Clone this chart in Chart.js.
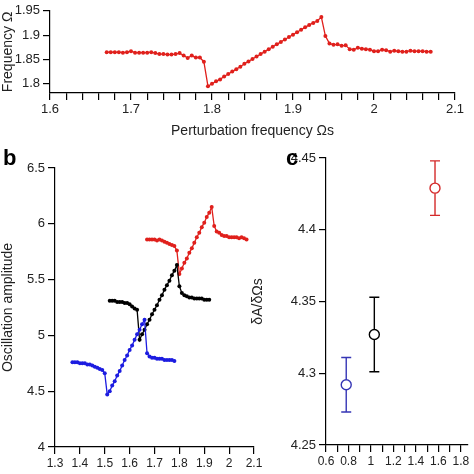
<!DOCTYPE html>
<html><head><meta charset="utf-8">
<script src="https://cdn.jsdelivr.net/npm/chart.js@4"></script>
<style>
body{margin:0;width:474px;height:474px;background:#fff;position:relative;overflow:hidden;font-family:"Liberation Sans",Arial,sans-serif}
canvas{position:absolute}
.lb{position:absolute;font-weight:bold;font-size:22px;font-family:"Liberation Sans",Arial,sans-serif}
</style></head><body>
<canvas id="ca" style="left:0px;top:0px" width="474" height="140"></canvas>
<canvas id="cb" style="left:0px;top:140px" width="270" height="334"></canvas>
<canvas id="cc" style="left:250px;top:140px" width="224" height="334"></canvas>
<div class="lb" style="left:3px;top:145px">b</div>
<div class="lb" style="left:286px;top:145px">c</div>
<script>
const xA=[1.67,1.675,1.68,1.685,1.69,1.695,1.70,1.705,1.71,1.715,1.72,1.725,1.73,1.735,1.74,1.745,1.75,1.755,1.76,1.765,1.77,1.775,1.78,1.785,1.79,1.795,1.80,1.805,1.81,1.815,1.82,1.825,1.83,1.835,1.84,1.845,1.85,1.855,1.86,1.865,1.87,1.875,1.88,1.885,1.89,1.895,1.90,1.905,1.91,1.915,1.92,1.925,1.93,1.935,1.94,1.945,1.95,1.955,1.96,1.965,1.97,1.975,1.98,1.985,1.99,1.995,2.00,2.005,2.01,2.015,2.02,2.025,2.03,2.035,2.04,2.045,2.05,2.055,2.06,2.065,2.07];
const freqA=[1.865,1.865,1.865,1.865,1.864,1.865,1.867,1.864,1.864,1.864,1.864,1.865,1.863,1.861,1.861,1.860,1.860,1.861,1.863,1.858,1.853,1.858,1.854,1.854,1.845,1.795,1.800,1.805,1.809,1.815,1.820,1.825,1.830,1.835,1.841,1.846,1.851,1.856,1.861,1.866,1.871,1.876,1.881,1.886,1.891,1.896,1.901,1.906,1.911,1.916,1.921,1.925,1.929,1.937,1.898,1.883,1.880,1.881,1.878,1.879,1.871,1.870,1.874,1.872,1.871,1.870,1.867,1.867,1.870,1.869,1.866,1.868,1.867,1.866,1.866,1.868,1.867,1.867,1.867,1.866,1.866];
const xB=[1.37,1.38,1.39,1.40,1.41,1.42,1.43,1.44,1.45,1.46,1.47,1.48,1.49,1.50,1.51,1.52,1.53,1.54,1.55,1.56,1.57,1.58,1.59,1.60,1.61,1.62,1.63,1.64,1.65,1.66,1.67,1.68,1.69,1.70,1.71,1.72,1.73,1.74,1.75,1.76,1.77,1.78,1.79,1.80,1.81,1.82,1.83,1.84,1.85,1.86,1.87,1.88,1.89,1.90,1.91,1.92,1.93,1.94,1.95,1.96,1.97,1.98,1.99,2.00,2.01,2.02,2.03,2.04,2.05,2.06,2.07];
const ampBlue=[4.76,4.76,4.76,4.75,4.75,4.75,4.74,4.74,4.73,4.72,4.71,4.70,4.69,4.66,4.47,4.50,4.55,4.59,4.64,4.68,4.73,4.78,4.82,4.87,4.91,4.96,5.01,5.05,5.10,5.14,4.84,4.81,4.80,4.80,4.79,4.79,4.79,4.78,4.78,4.78,4.78,4.77];
const ampBlack=[5.31,5.31,5.31,5.30,5.30,5.30,5.29,5.29,5.28,5.26,5.24,5.23,4.96,5.01,5.05,5.10,5.14,5.19,5.23,5.27,5.32,5.36,5.41,5.45,5.49,5.54,5.58,5.63,5.44,5.38,5.36,5.35,5.34,5.34,5.33,5.33,5.33,5.33,5.32,5.32,5.32];
const ampRed=[5.86,5.86,5.86,5.86,5.85,5.86,5.85,5.84,5.83,5.82,5.81,5.80,5.76,5.55,5.60,5.65,5.69,5.74,5.78,5.83,5.88,5.92,5.97,6.01,6.06,6.10,6.15,5.98,5.93,5.92,5.90,5.89,5.89,5.88,5.88,5.88,5.88,5.87,5.88,5.87,5.86];
const xC=[0.78,1.03,1.57];
const slopeC=[4.292,4.327,4.429];
const errC=[0.019,0.026,0.019];
const colC=['#3535b5','#000000','#d42a2a'];

const F='"Liberation Sans", Arial, sans-serif';
Chart.defaults.font.family=F;Chart.defaults.font.size=13;Chart.defaults.color='#222';
Chart.defaults.animation=false;
const fmt=v=>String(+(+v).toFixed(2));
function pts(xs,ys){return ys.map((y,i)=>({x:xs[i],y}));}
function axis(o){return Object.assign({type:'linear',border:{color:'#000',width:1.2},
 grid:{drawOnChartArea:false,color:'#000',tickLength:7,lineWidth:1.2},
 ticks:{color:'#222',padding:3,font:{size:13}}},o);}
const line=(data,c)=>({data,borderColor:c,backgroundColor:c,borderWidth:1.3,pointRadius:2,pointBorderWidth:0,tension:0});

new Chart(document.getElementById('ca'),{type:'line',
 data:{datasets:[line(pts(xA,freqA),'#e0201c')]},
 options:{responsive:false,plugins:{legend:{display:false},tooltip:{enabled:false}},
  layout:{padding:{top:5,right:19,left:0,bottom:0}},
  scales:{
   x:axis({min:1.6,max:2.1,afterFit:s=>{s.height=47},
     afterBuildTicks:s=>{s.ticks=[];for(const v of [1.6,1.62,1.64,1.66,1.68,1.7,1.72,1.74,1.76,1.78,1.8,1.82,1.84,1.86,1.88,1.9,1.92,1.94,1.96,1.98,2,2.02,2.04,2.06,2.08,2.1])s.ticks.push({value:v});},
     ticks:{color:'#222',padding:2,font:{size:13},autoSkip:false,maxRotation:0,callback:v=>Math.abs(v*10-Math.round(v*10))<1e-6?fmt(v):''},
     title:{display:true,text:'Perturbation frequency Ωs',font:{size:14},padding:0}}),
   y:axis({min:1.781,max:1.95,afterFit:s=>{s.width=50},
     afterBuildTicks:s=>{s.ticks=[1.8,1.85,1.9,1.95].map(v=>({value:v}));},
     ticks:{color:'#222',padding:3,font:{size:13},callback:fmt},
     title:{display:true,text:'Frequency Ω',font:{size:14},padding:0}})
  }}});

new Chart(document.getElementById('cb'),{type:'line',
 data:{datasets:[line(pts(xB.slice(0,42),ampBlue),'#1c1ce0'),line(pts(xB.slice(15,56),ampBlack),'#000'),line(pts(xB.slice(30,71),ampRed),'#e0201c')]},
 options:{responsive:false,plugins:{legend:{display:false},tooltip:{enabled:false}},
  layout:{padding:{top:28,right:16,left:0,bottom:0}},
  scales:{
   x:axis({min:1.3,max:2.1,afterFit:s=>{s.height=27},
     afterBuildTicks:s=>{s.ticks=[1.3,1.4,1.5,1.6,1.7,1.8,1.9,2,2.1].map(v=>({value:v}));},
     ticks:{color:'#222',padding:2,font:{size:12},autoSkip:false,maxRotation:0,callback:fmt}}),
   y:axis({min:4,max:6.5,afterFit:s=>{s.width=55},
     afterBuildTicks:s=>{s.ticks=[4,4.5,5,5.5,6,6.5].map(v=>({value:v}));},
     ticks:{color:'#222',padding:3,font:{size:13},callback:fmt},
     title:{display:true,text:'Oscillation amplitude',font:{size:14},padding:0}})
  }}});

const errPlugin={id:'err',afterDatasetsDraw(ch){const c=ch.ctx,xs=ch.scales.x,ys=ch.scales.y;
 xC.forEach((x,i)=>{const px=xs.getPixelForValue(x),t=ys.getPixelForValue(slopeC[i]+errC[i]),b=ys.getPixelForValue(slopeC[i]-errC[i]),m=ys.getPixelForValue(slopeC[i]);
  c.save();c.strokeStyle=colC[i];c.lineWidth=1.4;c.beginPath();
  c.moveTo(px,t);c.lineTo(px,m-5);c.moveTo(px,m+5);c.lineTo(px,b);
  c.moveTo(px-5,t);c.lineTo(px+5,t);c.moveTo(px-5,b);c.lineTo(px+5,b);c.stroke();c.restore();});}};
new Chart(document.getElementById('cc'),{type:'scatter',
 data:{datasets:[{data:pts(xC,slopeC),pointRadius:5,pointBorderWidth:1.4,pointBorderColor:colC,pointBackgroundColor:'rgba(0,0,0,0)'}]},
 plugins:[errPlugin],
 options:{responsive:false,plugins:{legend:{display:false},tooltip:{enabled:false}},
  layout:{padding:{top:18,right:0,left:0,bottom:0}},
  scales:{
   x:axis({min:0.6,max:1.86,afterFit:s=>{s.height=29},offset:false,
     afterBuildTicks:s=>{s.ticks=[0.6,0.7,0.8,0.9,1,1.1,1.2,1.3,1.4,1.5,1.6,1.7,1.8].map(v=>({value:v}));},
     ticks:{color:'#222',padding:2,font:{size:12},autoSkip:false,maxRotation:0,callback:v=>Math.abs(v*5-Math.round(v*5))<1e-6?fmt(v):''}}),
   y:axis({min:4.25,max:4.45,afterFit:s=>{s.width=76},
     afterBuildTicks:s=>{s.ticks=[4.25,4.3,4.35,4.4,4.45].map(v=>({value:v}));},
     ticks:{color:'#222',padding:3,font:{size:13},callback:fmt},
     title:{display:true,text:'δA/δΩs',font:{size:14},padding:{top:0,bottom:12}}})
  }}});
</script></body></html>
